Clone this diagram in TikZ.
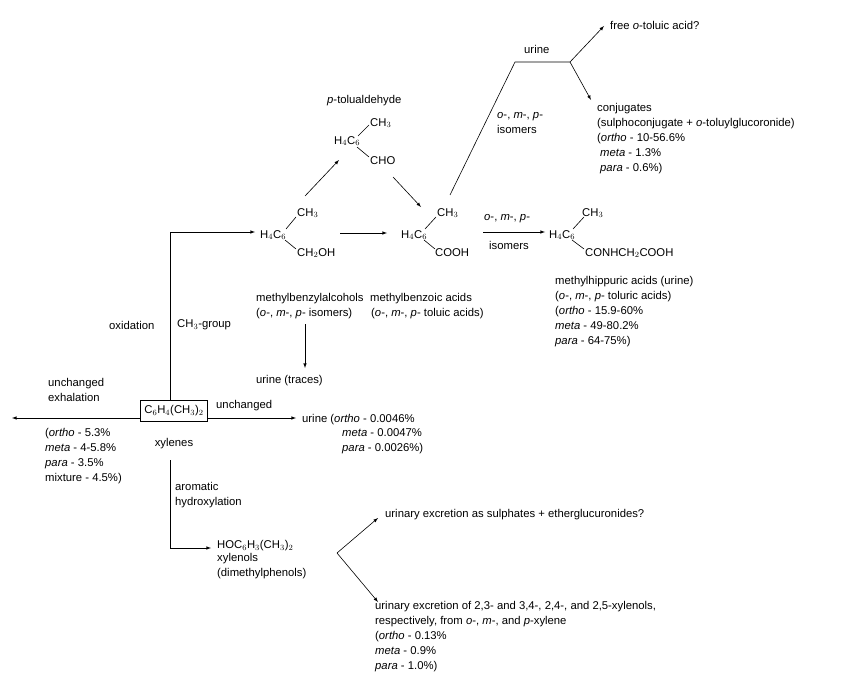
\documentclass[tikz,border=0pt]{standalone}
\usepackage{fontspec}
\setmainfont{Liberation Sans}
\begin{document}
\begin{tikzpicture}[x=1pt,y=-1pt,
  t/.style={inner sep=0pt,anchor=west,font=\fontsize{11.3}{15}\selectfont,align=left},
  ar/.style={-latex,line width=0.6pt},
  ln/.style={line width=0.6pt}]
\useasboundingbox (0,0) rectangle (849,685);
% xylenes
\node[t,draw,inner xsep=4pt,inner ysep=5pt,line width=0.7pt,anchor=center] (xyl) at (174,411) {C$_6$H$_4$(CH$_3$)$_2$};
\node[t,anchor=north] (xyln) at (174,438) {xylenes};
\coordinate (exE) at (12,418);
\draw[ar] (xyl.west|-exE) -- (exE);
\node[t] (exh) at (48,390) {unchanged\\exhalation};
\node[t,anchor=north west] (exd) at (45,428) {(\textit{ortho} - 5.3\%\\\textit{meta} - 4-5.8\%\\\textit{para} - 3.5\%\\mixture - 4.5\%)};
\node[t] (urx) at (302,420) {urine (\textit{ortho} - 0.0046\%};
\node[t,anchor=north west] (urx2) at (342,428) {\textit{meta} - 0.0047\%\\\textit{para} - 0.0026\%)};
\coordinate (urA) at (296,418);
\draw[ar] (xyl.east|-urA) -- (urA);
\node[t] (unc) at (216,406) {unchanged};
% oxidation path
\node[t] (mba) at (260,235) {H$_4$C$_6$};
\coordinate (c1) at (170,232);
\coordinate (c2) at (255,232);
\draw[ar] (xyl.north-|c1) -- (c1) -- (c2);
\node[t] (oxi) at (109,325) {oxidation};
\node[t] (ch3g) at (177,325) {CH$_3$-group};
\node[t] (mbaC) at (297,213) {CH$_3$};
\node[t] (mbaO) at (297,253) {CH$_2$OH};
\draw[ln] (286,229) -- (296,217); \draw[ln] (285,240) -- (296,249);
\node[t,anchor=north west] (mbaL) at (256,293) {methylbenzylalcohols\\(\textit{o}-, \textit{m}-, \textit{p}- isomers)};
\node[t] (trace) at (256,381) {urine (traces)};
\coordinate (tr1) at (305,324); \coordinate (tr2) at (305,368);
\draw[ar] (tr1) -- (tr2);
% tolualdehyde
\node[t] (tald) at (327,101) {\textit{p}-tolualdehyde};
\node[t] (taS) at (334,141) {H$_4$C$_6$};
\node[t] (taC) at (370,123) {CH$_3$};
\node[t] (taO) at (370,161) {CHO};
\draw[ln] (358,136) -- (369,125); \draw[ln] (357,147) -- (369,157);
\draw[ar] (305,196) -- (339,160);
\draw[ar] (393,177) -- (421,207);
% methylbenzoic
\node[t] (mbz) at (401,235) {H$_4$C$_6$};
\node[t] (mbzC) at (437,213) {CH$_3$};
\node[t] (mbzO) at (435,253) {COOH};
\draw[ln] (425,229) -- (436,217); \draw[ln] (424,240) -- (435,249);
\coordinate (bz1) at (340,233); \coordinate (bz2) at (387,233);
\draw[ar] (bz1) -- (bz2);
\node[t,anchor=north west] (mbzL) at (370,293) {methylbenzoic acids\\\hspace*{1pt}(\textit{o}-, \textit{m}-, \textit{p}- toluic acids)};
% hippuric
\node[t] (hip) at (549,235) {H$_4$C$_6$};
\node[t] (hipC) at (582,213) {CH$_3$};
\node[t] (hipO) at (585,253) {CONHCH$_2$COOH};
\draw[ln] (573,229) -- (584,217); \draw[ln] (572,240) -- (584,249);
\coordinate (hp1) at (483,232); \coordinate (hp2) at (545,232);
\draw[ar] (hp1) -- (hp2);
\node[t] (is1) at (484,219) {\textit{o}-, \textit{m}-, \textit{p}-};
\node[t] (is2) at (489,245) {isomers};
\node[t,anchor=north west] (hipL) at (555,276) {methylhippuric acids (urine)\\(\textit{o}-, \textit{m}-, \textit{p}- toluric acids)\\(\textit{ortho} - 15.9-60\%\\\textit{meta} - 49-80.2\%\\\textit{para} - 64-75\%)};
% urine branch
\coordinate (u0) at (450,195); \coordinate (u1) at (515,62); \coordinate (u2) at (570,62);
\coordinate (u3) at (604,26); \coordinate (u4) at (591,100);
\draw[ln] (u0) -- (u1) -- (u2);
\node[t] (urn) at (524,49) {urine};
\node[t] (free) at (610,25) {free \textit{o}-toluic acid?};
\draw[ar] (u2) -- (u3);
\draw[ar] (u2) -- (u4);
\node[t,anchor=north west] (conj) at (597,103) {conjugates\\(sulphoconjugate + \textit{o}-toluylglucoronide)\\(\textit{ortho} - 10-56.6\%\\\hspace*{3pt}\textit{meta} - 1.3\%\\\hspace*{3pt}\textit{para} - 0.6\%)};
\node[t,anchor=north west] (iso2) at (497,112) {\textit{o}-, \textit{m}-, \textit{p}-\\isomers};
% hydroxylation
\node[t] (hoc) at (217,546) {HOC$_6$H$_3$(CH$_3$)$_2$};
\node[t,anchor=north west] (hocL) at (217,553) {xylenols\\(dimethylphenols)};
\coordinate (h0) at (170,460);
\coordinate (h1) at (170,548);
\coordinate (h2) at (211,548);
\draw[ar] (h0) -- (h1) -- (h2);
\node[t,anchor=north west] (arom) at (175,482) {aromatic\\hydroxylation};
\coordinate (v) at (337,553); \coordinate (v1) at (378,518); \coordinate (v2) at (378,602);
\draw[ar] (v) -- (v1);
\draw[ar] (v) -- (v2);
\node[t] (ue1) at (385,515) {urinary excretion as sulphates + etherglucuronides?};
\node[t,anchor=north west] (ue2) at (375,601) {urinary excretion of 2,3- and 3,4-, 2,4-, and 2,5-xylenols,\\respectively, from \textit{o}-, \textit{m}-, and \textit{p}-xylene\\(\textit{ortho} - 0.13\%\\\textit{meta} - 0.9\%\\\textit{para} - 1.0\%)};
\end{tikzpicture}
\end{document}
